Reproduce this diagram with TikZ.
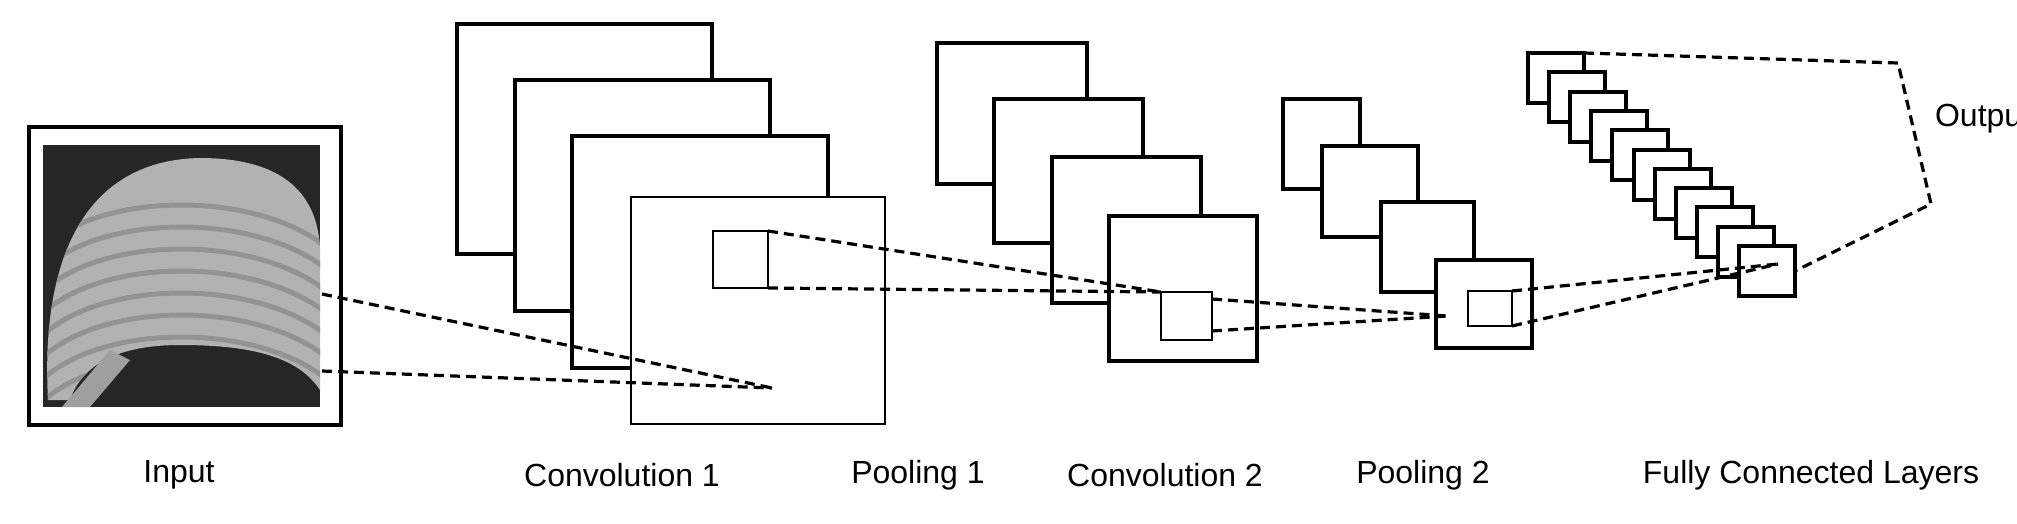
\documentclass[tikz,border=0pt]{standalone}
\usepackage{fontspec}
\setmainfont{Liberation Sans}
\begin{document}
\begin{tikzpicture}[x=0.5pt,y=-0.5pt,
  box/.style={draw, fill=white, line width=2pt, inner sep=0pt, outer sep=0pt, anchor=north west},
  thinbox/.style={box, line width=1.2pt},
  conn/.style={line width=1.6pt, dash pattern=on 5pt off 3pt},
  lab/.style={font=\fontsize{16}{19}\selectfont, anchor=center}]
\newcommand{\bxx}[6]{\node[#1, minimum width=#4*0.5pt, minimum height=#5*0.5pt] (#6) at (#2,#3) {};}
\useasboundingbox (0,0) rectangle (2017,524);
% input
\bxx{box}{29}{127}{312}{298}{in}
\fill[gray!30!black] (43,145) rectangle (320,407);
\begin{scope}
\path[clip] (48,400) .. controls (40,250) and (90,160) .. (200,158)
  .. controls (290,158) and (322,200) .. (320,260) -- (320,390)
  .. controls (300,360) and (260,345) .. (180,345)
  .. controls (110,345) and (80,370) .. (70,400) -- cycle;
\fill[gray!60] (40,150) rectangle (330,410);
\foreach \k in {0,...,7} {
  \draw[gray!85, line width=2.5pt] (40,{250+\k*22}) .. controls (100,{190+\k*22}) and (260,{190+\k*22}) .. (330,{250+\k*22});
}
\end{scope}
\fill[gray!75] (62,407) -- (110,350) -- (130,360) -- (90,407) -- cycle;
\coordinate (inA) at (322,294);
\coordinate (inB) at (322,371);
% conv1
\bxx{box}{457}{24}{255}{230}{c1a}
\bxx{box}{515}{80}{255}{231}{c1b}
\bxx{box}{572}{136}{256}{232}{c1c}
\bxx{thinbox}{631}{197}{254}{227}{c1d}
\bxx{thinbox}{713}{231}{55}{57}{k1}
\coordinate (f1) at (772,388);
% conv2
\bxx{box}{937}{43}{150}{141}{p1a}
\bxx{box}{994}{99}{149}{144}{p1b}
\bxx{box}{1052}{157}{149}{146}{p1c}
\bxx{box}{1109}{216}{148}{145}{p1d}
\bxx{thinbox}{1161}{292}{51}{48}{k2}
% pool2
\bxx{box}{1283}{99}{77}{90}{q1a}
\bxx{box}{1322}{146}{96}{91}{q1b}
\bxx{box}{1381}{202}{93}{90}{q1c}
\bxx{box}{1436}{260}{96}{88}{q1d}
\bxx{thinbox}{1468}{291}{44}{35}{k3}
% fully connected
\foreach \i in {0,...,10} {
  \node[box, minimum width=28pt, minimum height=25pt] (fc\i) at ({1528+\i*21.1},{53+\i*19.3}) {};
}
\coordinate (o1) at (1898,63);
\coordinate (o2) at (1931,204);
\coordinate (fcin) at (1778,264);
\coordinate (k3in) at (1447,316);
\coordinate (k2a) at (1212,299);
\coordinate (k2b) at (1212,331);
% connectors
\draw[conn] (inA) -- (f1);
\draw[conn] (inB) -- (f1);
\draw[conn] (k1.north east) -- (k2.north west);
\draw[conn] (k1.south east) -- (k2.north west);
\draw[conn] (k2a) -- (k3in);
\draw[conn] (k2b) -- (k3in);
\draw[conn] (k3.north east) -- (fcin);
\draw[conn] (k3.south east) -- (fcin);
\draw[conn] (fc0.north east) -- (o1) -- (o2) -- (fc10.east);
% labels
\node[lab] (lin) at (179,475) {Input};
\node[lab] (lc1) at (622,475) {Convolution 1};
\node[lab] (lp1) at (918,475) {Pooling 1};
\node[lab] (lc2) at (1165,475) {Convolution 2};
\node[lab] (lp2) at (1423,475) {Pooling 2};
\node[lab] (lfc) at (1811,475) {Fully Connected Layers};
\node[font=\fontsize{16}{19}\selectfont, anchor=west] (lout) at (1928,119) {Output};
\end{tikzpicture}
\end{document}
